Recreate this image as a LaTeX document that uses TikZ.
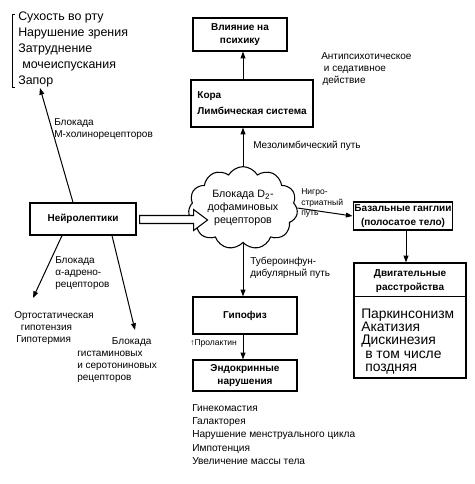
\documentclass[tikz,border=0pt]{standalone}
\usepackage{fontspec}
\setmainfont{Liberation Sans}
\usepackage{tikz}
\usetikzlibrary{arrows.meta,shapes.symbols,calc}

\begin{document}
\begin{tikzpicture}[x=0.75pt,y=-0.75pt,
    box/.style={draw, line width=0.9pt, align=center, inner sep=1pt,
      font=\bfseries\fontsize{7.5}{10}\selectfont},
    lbl/.style={align=left, inner sep=0pt, font=\fontsize{7.5}{9.2}\selectfont},
    biglist/.style={align=left, inner sep=0pt, font=\fontsize{9.3}{12}\selectfont},
    small/.style={align=left, inner sep=0pt, font=\fontsize{6.4}{7.6}\selectfont},
    arr/.style={line width=0.75pt, -{Triangle[length=5pt,width=3.6pt]}}]
  \useasboundingbox (0,0) rectangle (474,484);

  \node[box, minimum width=70.5pt, minimum height=24.75pt] (psy) at (240,34.5) {Влияние на\\психику};
  \node[box, minimum width=91.5pt, minimum height=35.25pt, align=left] (cortex) at (252,103.5) {Кора\\[2pt]Лимбическая система};
  \node[box, minimum width=79.5pt, minimum height=24pt] (neuro) at (83,219) {Нейролептики};
  \node[draw, line width=0.8pt, cloud, cloud puffs=11, cloud puff arc=120, cloud ignores aspect,
        minimum width=82pt, minimum height=62pt, inner sep=0pt, align=center,
        font=\fontsize{8}{10}\selectfont] (d2) at (243,208) {Блокада D\textsubscript{2}-\\дофаминовых\\рецепторов};
  \node[box, minimum width=73.5pt, minimum height=21pt] (basal) at (403,216) {Базальные ганглии\\(полосатое тело)};
  \node[box, minimum width=84pt, minimum height=86.25pt] (motor) at (410,320.5) {};
  \node[box, draw=none] (motortitle) at (410,281) {Двигательные\\расстройства};
  \node[box, minimum width=78pt, minimum height=27.75pt] (pit) at (245,315.5) {Гипофиз};
  \node[box, minimum width=78pt, minimum height=23.25pt] (endo) at (245,375.5) {Эндокринные\\нарушения};

  \draw[line width=0.6pt] ($(motor.north west)+(0,34)$) -- ($(motor.north east)+(0,34)$);

  \node[biglist, anchor=north west] (dry) at (18,12) {Сухость во рту\\Нарушение зрения\\Затруднение\\\hspace*{3pt}мочеиспускания\\Запор};
  \draw[line width=0.7pt] ($(dry.north west)+(-3,2)$) -- ($(dry.north west)+(-6,2)$) |- ($(dry.south west)+(-3,0)$);
  \node[biglist, anchor=north west, font=\fontsize{10.4}{9.8}\selectfont] (motorlist) at (361,309) {Паркинсонизм\\Акатизия\\Дискинезия\\\hspace*{3pt}в том числе\\\hspace*{3pt}поздняя};
  \node[lbl, anchor=north west, font=\fontsize{7.6}{10}\selectfont] (endolist) at (192,404) {Гинекомастия\\Галакторея\\Нарушение менструального цикла\\Импотенция\\Увеличение массы тела};

  \node[lbl, anchor=west] (mlab) at (54,129) {Блокада\\М-холинорецепторов};
  \node[lbl, anchor=west] (alab) at (55,273) {Блокада\\α-адрено-\\рецепторов};
  \node[lbl, anchor=north west] (ortho) at (14,311) {Ортостатическая\\\hspace*{5pt}гипотензия\\\hspace*{1.5pt}Гипотермия};
  \node[lbl, anchor=north west] (hist) at (77,337) {\hspace*{26pt}Блокада\\гистаминовых\\и серотониновых\\рецепторов};
  \node[lbl, anchor=west] (meso) at (253,146) {Мезолимбический путь};
  \node[lbl, anchor=north west] (anti) at (321,52) {Антипсихотическое\\\hspace*{2pt}и седативное\\\hspace*{1pt}действие};
  \node[lbl, anchor=west] (tubero) at (250,268) {Тубероинфун-\\дибулярный путь};
  \node[small, anchor=west] (nigro) at (301,203) {Нигро-\\стриатный\\путь};
  \node[small, anchor=west] (prl) at (190,343) {↑Пролактин};

  \coordinate (drytip) at (40,88);
  \coordinate (alphatip) at (33,298);
  \coordinate (histtip) at (135,330);
  \coordinate (bsouth) at ($(basal.south)+(3,0)$);

  \draw[arr] (d2.north) -- (d2.north |- cortex.south);
  \draw[arr] (d2.north |- cortex.north) -- (d2.north |- psy.south);
  \draw[arr] (d2.east) -- (basal.west);
  \draw[arr] (bsouth) -- (bsouth |- motor.north);
  \draw[arr] (d2.south) -- (d2.south |- pit.north);
  \draw[arr] (d2.south |- pit.south) -- (d2.south |- endo.north);
  \draw[arr] ($(neuro.north)+(-10,0)$) -- (drytip);
  \draw[arr] ($(neuro.south)+(-21,0)$) -- (alphatip);
  \draw[arr] ($(neuro.south)+(29,0)$) -- (histtip);

  \draw[line width=0.8pt, fill=white] ($(neuro.east)+(3,-3.5)$) -- ($(neuro.east)+(57,-3.5)$)
    -- ($(neuro.east)+(57,-9.5)$) -- ($(neuro.east)+(71,1)$) -- ($(neuro.east)+(57,11.5)$)
    -- ($(neuro.east)+(57,4.5)$) -- ($(neuro.east)+(3,4.5)$) -- cycle;
\end{tikzpicture}
\end{document}
